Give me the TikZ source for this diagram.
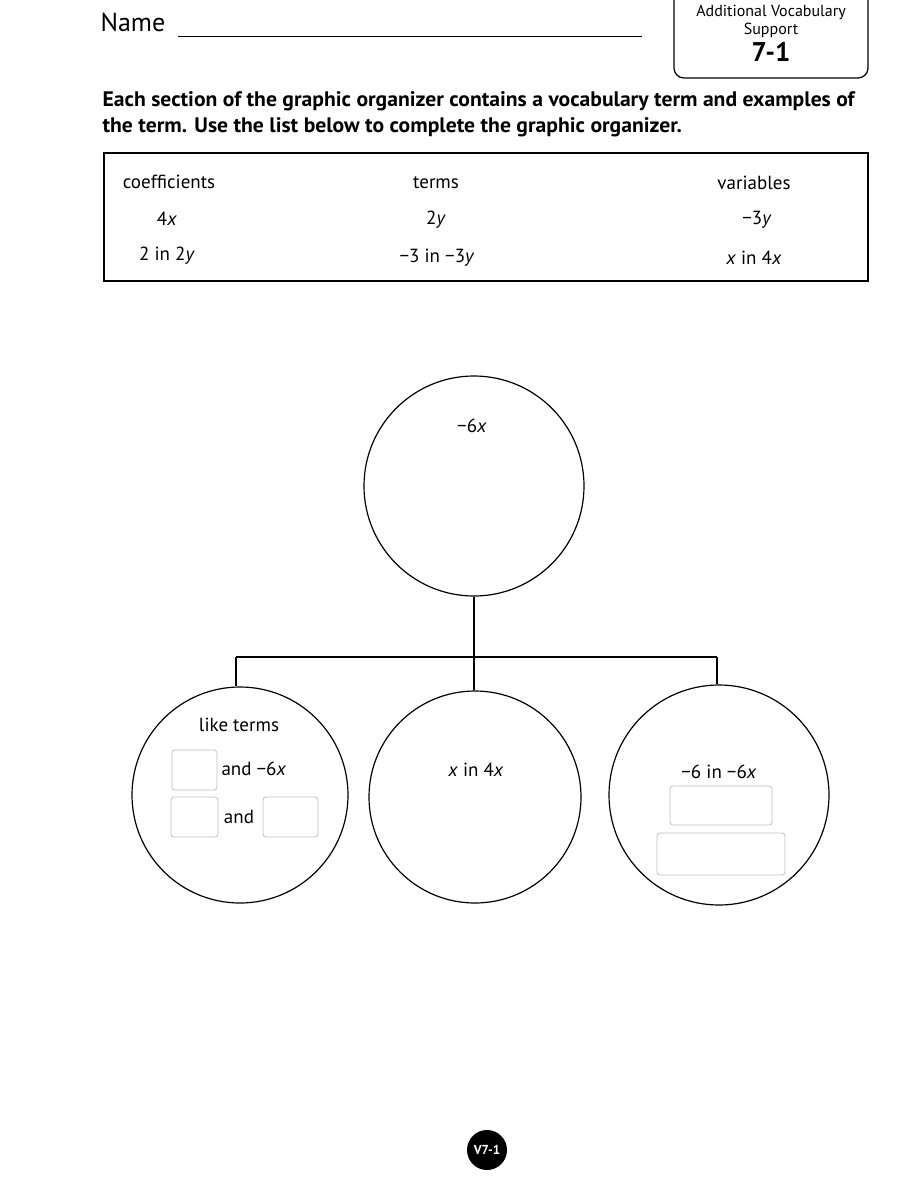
\documentclass[tikz,border=0pt]{standalone}
\usepackage{fontspec}
\setmainfont{PT Sans}
\begin{document}
\begin{tikzpicture}[x=1pt,y=-1pt,
  circ/.style={draw,circle,line width=1.2pt},
  ln/.style={line width=1.2pt},
  txt/.style={font=\fontsize{19}{22}\selectfont},
  blank/.style={draw=black!25,rounded corners=3pt,line width=0.8pt,minimum width=#1,inner sep=0pt}]
\useasboundingbox[fill=white] (0,0) rectangle (909,1200);
% header
\node[anchor=west,font=\fontsize{26}{30}\selectfont] (name) at (97,22) {Name};
\coordinate (l1) at (178,36); \coordinate (l2) at (642,36);
\draw[line width=1pt] (l1) -- (l2);
\draw[ln,rounded corners=10pt] (674,-10) -- (674,78) -- (868,78) -- (868,-10);
\node[font=\fontsize{16}{18}\selectfont] (av) at (771,12) {Additional Vocabulary};
\node[font=\fontsize{16}{18}\selectfont] (su) at (771,30) {Support};
\node[font=\fontsize{27}{29}\selectfont\bfseries] (num) at (771,52) {7-1};
% instructions
\node[anchor=west,font=\fontsize{21}{24}\selectfont\bfseries,xscale=1.03] (i1) at (99,101) {Each section of the graphic organizer contains a vocabulary term and examples of};
\node[anchor=west,font=\fontsize{21}{24}\selectfont\bfseries,xscale=1.03] (i2) at (99,127) {the term. Use the list below to complete the graphic organizer.};
% table
\draw[ln] (104,153) rectangle (868,281);
\node[txt] (t11) at (169,182) {coefficients};
\node[txt] (t12) at (436,183) {terms};
\node[txt] (t13) at (754,183) {variables};
\node[txt] (t21) at (167,219) {4\textit{x}};
\node[txt] (t22) at (436,220) {2\textit{y}};
\node[txt] (t23) at (757,220) {−3\textit{y}};
\node[txt] (t31) at (167,256) {2 in 2\textit{y}};
\node[txt] (t32) at (437,258) {−3 in −3\textit{y}};
\node[txt] (t33) at (754,258) {\textit{x} in 4\textit{x}};
% circles
\node[circ,minimum size=220pt] (top) at (474,486) {};
\node[txt] (toplab) at (472,426) {−6\textit{x}};
\node[circ,minimum size=216pt] (left) at (240,795) {};
\node[circ,minimum size=212pt] (mid) at (475,797) {};
\node[circ,minimum size=220pt] (right) at (719,795) {};
\coordinate (j) at (474,657);
\coordinate (jl) at (236,657);
\coordinate (jr) at (717,657);
\draw[ln] (top.south) -- (j);
\draw[ln] (jl) -- (jr);
\draw[ln] (jl) -- (jl |- left.north);
\draw[ln] (j) -- (j |- mid.north);
\draw[ln] (jr) -- (jr |- right.north);
% left content
\node[txt] (lt) at (239,725) {like terms};
\node[blank=45pt,minimum height=40pt] (b1) at (194.5,770) {};
\node[txt,anchor=west] (a1) at (218,769) {and −6\textit{x}};
\node[blank=47pt,minimum height=40pt] (b2) at (194.5,817) {};
\node[txt] (a2) at (239,817) {and};
\node[blank=55pt,minimum height=40pt] (b3) at (290.5,817) {};
% middle
\node[txt] (ml) at (476,770) {\textit{x} in 4\textit{x}};
% right
\node[txt] (rl) at (719,772) {−6 in −6\textit{x}};
\node[blank=102pt,minimum height=39pt] (b4) at (721,805.5) {};
\node[blank=128pt,minimum height=42pt] (b5) at (721,854) {};
% footer
\node[circle,fill=black,minimum size=40pt,inner sep=0pt,text=white,font=\fontsize{13}{15}\selectfont\bfseries] (ft) at (487,1150) {V7-1};
\end{tikzpicture}
\end{document}
